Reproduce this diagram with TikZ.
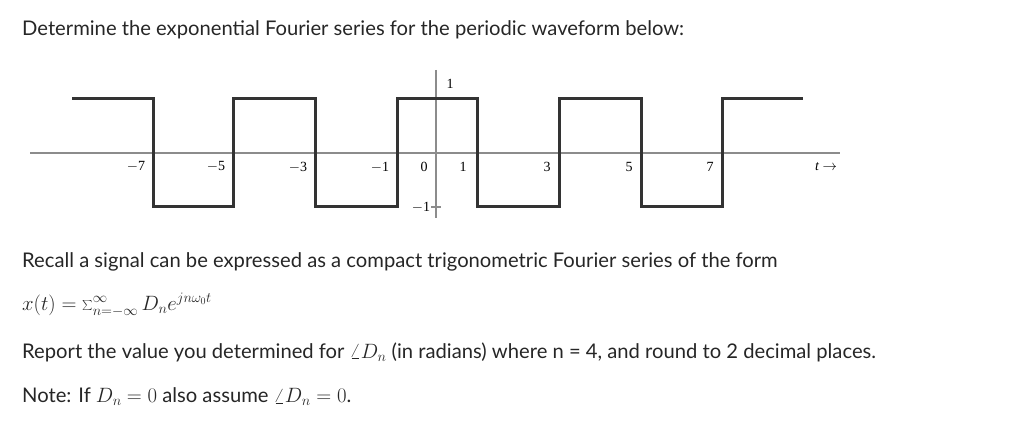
\documentclass[tikz,border=0pt]{standalone}
\usepackage{fontspec}
\setmainfont{Lato}
\newfontfamily\tms{Liberation Serif}
\begin{document}
\begin{tikzpicture}[x=1pt,y=-1pt,
  txt/.style={anchor=west,inner sep=0pt,font=\fontsize{20.2}{24}\selectfont,text=black!85},
  lab/.style={inner sep=0pt,font=\tms\fontsize{14}{16}\selectfont},
  wave/.style={line width=3pt,black!80}]
\useasboundingbox (0,0) rectangle (1010,435);
\node[txt] (title) at (22,30) {Determine the exponential Fourier series for the periodic waveform below:};
% axes
\coordinate (ax0) at (30,153); \coordinate (ax1) at (840,153);
\coordinate (ay0) at (436,70); \coordinate (ay1) at (436,218);
\draw[black!45,line width=1.3pt] (ax0) -- (ax1);
\draw[black!45,line width=1.3pt] (ay0) -- (ay1);
\draw[black!45,line width=1.3pt] (431,207) -- (441,207);
% waveform
\draw[wave] (72,99) -- (153,99) -- (153,207) -- (233,207) -- (233,99) -- (315,99) -- (315,207)
  -- (397,207) -- (397,99) -- (477,99) -- (477,207) -- (559,207) -- (559,99) -- (641,99)
  -- (641,207) -- (722,207) -- (722,99) -- (803,99);
% labels
\foreach \v/\x in {{$-$7}/136,{$-$5}/216,{$-$3}/298,{$-$1}/380,0/424,1/463,3/547,5/629,7/710}
  \node[lab] at (\x,167) {\v};
\node[lab] at (450,84) {1};
\node[lab] at (421,207) {$-$1};
\node[lab] at (826,167) {\itshape t $\rightarrow$};
\node[txt] (recall) at (22,262) {Recall a signal can be expressed as a compact trigonometric Fourier series of the form};
\node[txt] (formula) at (22,305) {$x(t) = \sum_{n=-\infty}^{\infty} D_n e^{jn\omega_0 t}$};
\node[txt] (report) at (22,352) {Report the value you determined for $\angle D_n$ (in radians) where n = 4, and round to 2 decimal places.};
\node[txt] (note) at (22,397) {Note: If $D_n$ $=0$ also assume $\angle D_n=0$.};
\end{tikzpicture}
\end{document}
